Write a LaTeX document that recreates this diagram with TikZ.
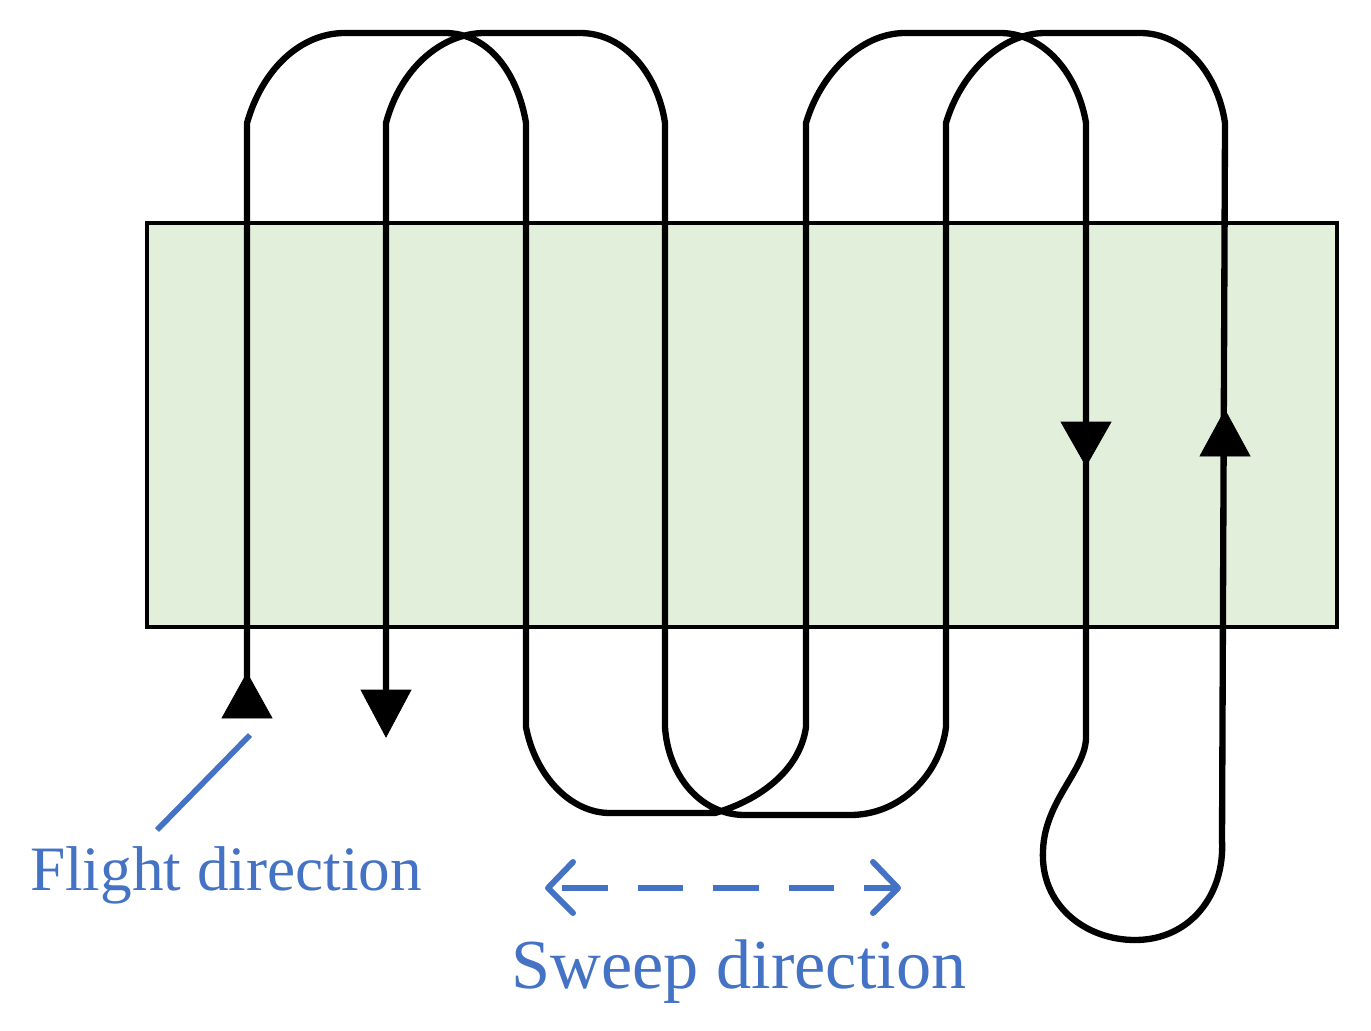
\documentclass[tikz,border=0pt]{standalone}
\usepackage{fontspec}
\setmainfont{Liberation Serif}
\usetikzlibrary{arrows.meta}
\definecolor{fieldgreen}{HTML}{E2EFDA}
\definecolor{blu}{HTML}{4472C4}
\begin{document}
\begin{tikzpicture}[x=0.02cm,y=-0.02cm,
  track/.style={line width=3.6pt,line join=round},
  tip/.style={fill=black},
  lbl/.style={text=blu,inner sep=0pt}]
\useasboundingbox (0,0) rectangle (1371,1030);
\draw[line width=2.2pt,fill=fieldgreen] (147,223) rectangle (1337,627);
\draw[track] (247,700) -- (247,123) .. controls (262,70) and (300,33) .. (345,33) -- (445,33) .. controls (490,33) and (518,75) .. (526,123) -- (526,727)
  .. controls (535,775) and (570,813) .. (610,813) -- (715,813) .. controls (760,800) and (800,770) .. (806,727) -- (806,123)
  .. controls (820,75) and (860,33) .. (905,33) -- (1000,33) .. controls (1045,33) and (1078,75) .. (1086,123) -- (1086,737)
  .. controls (1086,770) and (1045,800) .. (1043,850) .. controls (1040,905) and (1085,940) .. (1135,940) .. controls (1190,940) and (1225,895) .. (1222,840) -- (1225,123)
  .. controls (1218,75) and (1185,33) .. (1140,33) -- (1045,33) .. controls (1000,33) and (960,75) .. (946,123) -- (946,727)
  .. controls (940,775) and (900,815) .. (850,815) -- (745,815) .. controls (700,815) and (668,775) .. (665,727) -- (665,123)
  .. controls (658,75) and (625,33) .. (580,33) -- (485,33) .. controls (440,33) and (400,70) .. (386,123) -- (386,700);
\draw[tip] (222,718) -- (272,718) -- (247,673) -- cycle;
\draw[tip] (361,690) -- (411,690) -- (386,737) -- cycle;
\draw[tip] (1061,422) -- (1111,422) -- (1086,466) -- cycle;
\draw[tip] (1200,456) -- (1250,456) -- (1225,410) -- cycle;
\draw[blu,line width=3.2pt] (250,735) -- (157,830);
\node[lbl,font=\fontsize{36}{42}\selectfont] (fd) at (226,875) {Flight direction};
\coordinate (sl) at (548,888);
\coordinate (sr) at (898,888);
\draw[blu,line width=3.4pt,dash pattern=on 26pt off 17pt,dash phase=-8pt] (sl) -- (sr);
\draw[blu,line width=3.4pt,line cap=round,line join=round] (573,862) -- (548,888) -- (573,913);
\draw[blu,line width=3.4pt,line cap=round,line join=round] (873,862) -- (898,888) -- (873,913);
\node[lbl,font=\fontsize{40}{48}\selectfont] (sd) at (739,972) {Sweep direction};
\end{tikzpicture}
\end{document}
